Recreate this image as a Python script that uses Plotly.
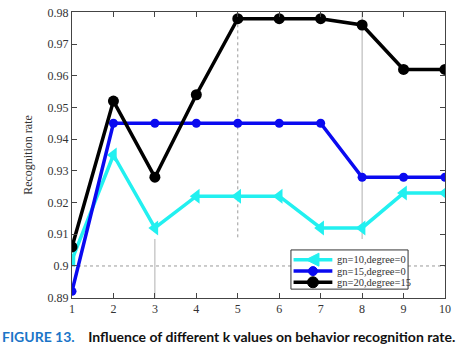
import plotly.graph_objects as go

k_values = [1, 2, 3, 4, 5, 6, 7, 8, 9, 10]
gn10_deg0 = [0.902, 0.935, 0.912, 0.922, 0.922, 0.922, 0.912, 0.912, 0.923, 0.923]
gn15_deg0 = [0.892, 0.945, 0.945, 0.945, 0.945, 0.945, 0.945, 0.928, 0.928, 0.928]
gn20_deg15 = [0.906, 0.952, 0.928, 0.954, 0.978, 0.978, 0.978, 0.976, 0.962, 0.962]
series_names = ["gn=10,degree=0", "gn=15,degree=0", "gn=20,degree=15"]
series_colors = ["#22f0f0", "#0a0af0", "#000000"]
y_ticks = [0.89, 0.90, 0.91, 0.92, 0.93, 0.94, 0.95, 0.96, 0.97, 0.98]
y_tick_labels = ["0.89", "0.9", "0.91", "0.92", "0.93", "0.94", "0.95", "0.96", "0.97", "0.98"]

serif = "Liberation Serif, Times New Roman, serif"

fig = go.Figure()
fig.add_trace(go.Scatter(x=k_values, y=gn10_deg0, name=series_names[0], mode="lines+markers",
                         line=dict(color=series_colors[0], width=3.5),
                         marker=dict(symbol="triangle-left", size=13, color=series_colors[0])))
fig.add_trace(go.Scatter(x=k_values, y=gn15_deg0, name=series_names[1], mode="lines+markers",
                         line=dict(color=series_colors[1], width=3.5),
                         marker=dict(symbol="circle", size=9, color=series_colors[1])))
fig.add_trace(go.Scatter(x=k_values, y=gn20_deg15, name=series_names[2], mode="lines+markers",
                         line=dict(color=series_colors[2], width=3.5),
                         marker=dict(symbol="circle", size=11, color=series_colors[2])))

# partial grid lines as rendered in the reference
grid = "#9a9a9a"
fig.add_shape(type="line", x0=5, x1=5, y0=0.98, y1=0.9085, line=dict(color=grid, width=1, dash="dot"), layer="below")
fig.add_shape(type="line", x0=1, x1=10, y0=0.9, y1=0.9, line=dict(color=grid, width=1, dash="dot"), layer="below")
fig.add_shape(type="line", x0=3, x1=3, y0=0.89, y1=0.9085, line=dict(color="#b0b0b0", width=1), layer="below")
fig.add_shape(type="line", x0=8, x1=8, y0=0.98, y1=0.9085, line=dict(color="#b0b0b0", width=1), layer="below")

# compact legend box (MATLAB style), in paper coordinates
lx0, lx1, ly0, ly1 = 0.587, 0.901, 0.031, 0.168
fig.add_shape(type="rect", xref="paper", yref="paper", x0=lx0, x1=lx1, y0=ly0, y1=ly1,
              fillcolor="white", line=dict(color="#333", width=1), layer="above")
row_y = [0.134, 0.094, 0.055]
sx0, sx1, sxm = 0.594, 0.698, 0.646
for i, name in enumerate(series_names):
    fig.add_shape(type="line", xref="paper", yref="paper", x0=sx0, x1=sx1, y0=row_y[i], y1=row_y[i],
                  line=dict(color=series_colors[i], width=3.5), layer="above")
    if i == 0:
        fig.add_shape(type="path", xref="paper", yref="paper", xsizemode="pixel", ysizemode="pixel",
                      xanchor=sxm, yanchor=row_y[i], path="M -7,0 L 6,6.5 L 6,-6.5 Z",
                      fillcolor=series_colors[i], line=dict(color=series_colors[i], width=1), layer="above")
    else:
        r = 4.5 if i == 1 else 5.5
        fig.add_shape(type="circle", xref="paper", yref="paper", xsizemode="pixel", ysizemode="pixel",
                      xanchor=sxm, yanchor=row_y[i], x0=-r, x1=r, y0=-r, y1=r,
                      fillcolor=series_colors[i], line=dict(color=series_colors[i], width=1), layer="above")
    fig.add_annotation(xref="paper", yref="paper", x=0.705, y=row_y[i], xanchor="left", yanchor="middle",
                       showarrow=False, text=name, font=dict(family=serif, size=10.5, color="#333"))

fig.update_layout(
    width=474, height=351,
    margin=dict(l=72, r=29, t=6, b=53),
    paper_bgcolor="white", plot_bgcolor="white",
    showlegend=False,
    font=dict(family=serif, size=12, color="#333"),
)
fig.update_xaxes(range=[1, 10], tickvals=k_values, ticks="inside", ticklen=5,
                 showgrid=False, zeroline=False, showline=True, linecolor="#444",
                 linewidth=1, mirror="ticks", tickcolor="#444",
                 tickfont=dict(family=serif, size=12, color="#333"))
fig.update_yaxes(range=[0.8899, 0.9801], tickvals=y_ticks, ticktext=y_tick_labels,
                 ticks="inside", ticklen=5, showgrid=False, zeroline=False,
                 showline=True, linecolor="#444", linewidth=1, mirror="ticks",
                 tickcolor="#444", tickfont=dict(family=serif, size=12, color="#333"),
                 ticklabeloverflow="allow",
                 title=dict(text="Recognition rate", font=dict(family=serif, size=12, color="#333"),
                            standoff=12))

fig.add_annotation(xref="paper", yref="paper", x=-0.193, y=-0.1336, xanchor="left", yanchor="middle",
                   showarrow=False,
                   text="<b><span style='color:#1a75c8'>FIGURE 13.</span>&nbsp;&nbsp;&nbsp;&nbsp;Influence of different k values on behavior recognition rate.</b>",
                   font=dict(family="Lato, Open Sans, sans-serif", size=14, color="#111"))

fig.write_html("out.html")
